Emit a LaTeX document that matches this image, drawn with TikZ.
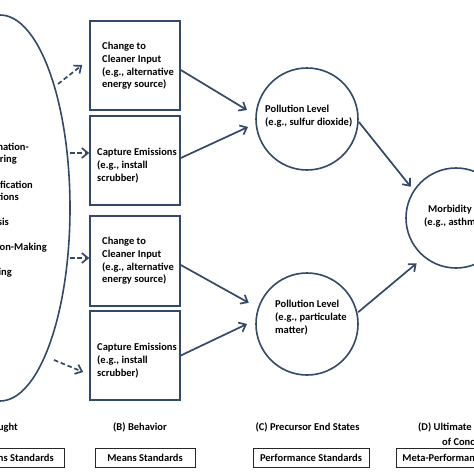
\documentclass[tikz,border=0pt]{standalone}
\usepackage{fontspec}
\setmainfont{Carlito}
\usetikzlibrary{arrows.meta,shapes.geometric,calc}
\definecolor{ln}{RGB}{52,72,104}
\begin{document}
\begin{tikzpicture}[x=1pt,y=-1pt,
  lbl/.style={font=\bfseries\fontsize{10.5}{12.7}\selectfont, inner sep=0pt, align=left, text=black},
  box/.style={draw=ln, line width=1.6pt, minimum width=90pt, inner sep=0pt},
  circ/.style={draw=ln, line width=1.6pt, circle, minimum size=102pt, inner sep=0pt},
  arr/.style={draw=ln, line width=1.7pt, -{Straight Barb[length=6pt,width=10pt]}},
  darr/.style={arr, dash pattern=on 4.5pt off 2.8pt},
  stdbox/.style={draw=black!85, line width=0.8pt, minimum height=19pt, inner ysep=0pt, inner xsep=6pt, font=\bfseries\fontsize{10.5}{12.7}\selectfont}
]
\useasboundingbox (0,0) rectangle (474,474);
\fill[white] (0,0) rectangle (474,474);
\clip (0,0) rectangle (474,474);

% (A) ellipse
\node[draw=ln, line width=1.6pt, ellipse, minimum width=140pt, minimum height=386pt, inner sep=0pt] (th) at (0,208) {};
\node[lbl, anchor=east] (t1) at (29,147) {Information-};
\node[lbl, anchor=east] (t2) at (17,160) {Gathering};
\node[lbl, anchor=east] (t3) at (33,185) {Identification};
\node[lbl, anchor=east] (t4) at (19,198) {of Options};
\node[lbl, anchor=east] (t5) at (9,223) {Analysis};
\node[lbl, anchor=east] (t6) at (47,248) {Decision-Making};
\node[lbl, anchor=east] (t7) at (12,273) {Planning};

% (B) boxes
\node[box, minimum height=89pt] (b1) at (135,65.5) {};
\node[box, minimum height=89pt] (b2) at (135,160.5) {};
\node[box, minimum height=90pt] (b3) at (135,261) {};
\node[box, minimum height=89pt] (b4) at (135,355.5) {};
\node[lbl, anchor=west] (x1) at (102,66) {Change to\\Cleaner Input\\(e.g., alternative\\energy source)};
\node[lbl, anchor=west] (x2) at (97,165.5) {Capture Emissions\\(e.g., install\\scrubber)};
\node[lbl, anchor=west] (x3) at (102,261) {Change to\\Cleaner Input\\(e.g., alternative\\energy source)};
\node[lbl, anchor=west] (x4) at (97,360.5) {Capture Emissions\\(e.g., install\\scrubber)};

% (C) and (D) circles
\node[circ] (c1) at (307,119) {};
\node[circ] (c2) at (307,324) {};
\node[circ, minimum size=100pt] (c3) at (456,218) {};
\node[lbl, anchor=west] (y1) at (265,116) {Pollution Level\\(e.g., sulfur dioxide)};
\node[lbl, anchor=west] (y2) at (275,317.5) {Pollution Level\\(e.g., particulate\\matter)};
\node[lbl, anchor=west] (y3) at (428,210) {Morbidity};
\node[lbl, anchor=west] (y4) at (424,222) {(e.g., asthma)};

% dashed arrows
\draw[darr] ($(th)+(58,-124)$) -- ($(b1.west)+(-7,-0.5)$);
\draw[darr] ($(th)+(70,-55)$) -- ([yshift=7.5pt]b2.west);
\draw[darr] ($(th)+(70,50)$) -- ([yshift=3pt]b3.west);
\draw[darr] ($(th)+(54,152)$) -- ($(b4.west)+(-6,16.5)$);

% solid arrows
\draw[arr] ([yshift=-4.5pt]b1.east) -- ($(c1)+(188.5:60.7)$);
\draw[arr] ([yshift=2.5pt]b2.east) -- ($(c1)+(172.3:59.5)$);
\draw[arr] ([yshift=-4pt]b3.east) -- ($(c2)+(200:62)$);
\draw[arr] ([yshift=0pt]b4.east) -- ($(c2)+(180:60)$);
\draw[arr] ($(c1)+(3.3:52)$) -- ($(c3)+(214.6:55)$);
\draw[arr] ($(c2)+(347:52.5)$) -- ($(c3)+(131:60)$);

% column labels
\node[lbl, anchor=east] (la) at (18,427) {(A) Thought};
\node[lbl] (lb) at (140,427) {(B) Behavior};
\node[lbl] (lc) at (307.5,427) {(C) Precursor End States};
\node[lbl, anchor=west] (ld1) at (418,427) {(D) Ultimate End States};
\node[lbl, anchor=west] (ld2) at (442,442) {of Concern};

% standards boxes
\node[stdbox, minimum width=96pt] (sa) at (16,457.5) {Means Standards};
\node[stdbox, minimum width=100pt] (sb) at (145,457.5) {Means Standards};
\node[stdbox, minimum width=116pt] (sc) at (311,457.5) {Performance Standards};
\node[stdbox, anchor=west] (sd) at (396,457.5) {Meta-Performance Standards};
\end{tikzpicture}
\end{document}
